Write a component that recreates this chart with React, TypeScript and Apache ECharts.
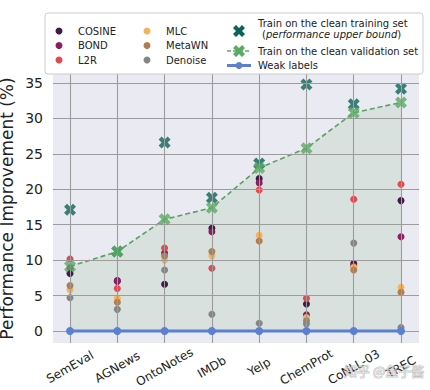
import React, { useEffect, useRef } from "react";
import * as echarts from "echarts";

const categories = ["SemEval", "AGNews", "OntoNotes", "IMDb", "Yelp", "ChemProt", "CoNLL-03", "TREC"];
const cosine = [8.1, 7.1, 6.6, 14.5, 21.5, 3.8, 9.5, 18.4];
const bond = [8.9, 7.0, 11.0, 14.0, 20.9, 2.3, 9.2, 13.3];
const l2r = [10.15, 6.0, 11.7, 8.85, 19.9, 4.6, 18.6, 20.7];
const mlc = [5.8, 4.6, 10.0, 10.6, 13.5, 1.9, 9.0, 6.15];
const metawn = [6.4, 4.05, 10.6, 11.2, 12.7, 1.45, 8.6, 5.45];
const denoise = [4.7, 3.05, 8.6, 2.35, 1.08, 1.0, 12.4, 0.5];
const trainClean = [17.1, 11.2, 26.6, 18.8, 23.65, 34.8, 32.0, 34.2];
const trainValid = [9.1, 11.2, 15.75, 17.4, 23.0, 25.8, 30.8, 32.25];
const weakLabels = [0, 0, 0, 0, 0, 0, 0, 0];
const yTicks = [0, 5, 10, 15, 20, 25, 30, 35];

const FONT = "DejaVu Sans";
const X_PATH = "path://M25 0 L50 25 L75 0 L100 25 L75 50 L100 75 L75 100 L50 75 L25 100 L0 75 L25 50 L0 25 Z";

const methods = [
  { name: "COSINE", data: cosine, color: "#3e1a47" },
  { name: "BOND", data: bond, color: "#8d1e5e" },
  { name: "L2R", data: l2r, color: "#e2484f" },
  { name: "MLC", data: mlc, color: "#f5b35c" },
  { name: "MetaWN", data: metawn, color: "#b17d4e" },
  { name: "Denoise", data: denoise, color: "#858585" },
];

const toPairs = (arr: number[]) => arr.map((v, i) => [i, v]);

function xPoints(cx: number, cy: number, s: number) {
  const base = [
    [25, 0], [50, 25], [75, 0], [100, 25], [75, 50], [100, 75],
    [75, 100], [50, 75], [25, 100], [0, 75], [25, 50], [0, 25],
  ];
  return base.map(([x, y]) => [cx + ((x - 50) / 100) * s, cy + ((y - 50) / 100) * s]);
}

export default function App() {
  const ref = useRef<HTMLDivElement>(null);
  useEffect(() => {
    if (!ref.current) return;
    const chart = echarts.init(ref.current, null, { renderer: "svg" });
    const catIdx = categories.map((_, i) => i);

    const legendGraphics: any[] = [
      {
        type: "rect",
        shape: { x: 45, y: 13, width: 378, height: 61, r: 3 },
        style: { fill: "rgba(255,255,255,0.9)", stroke: "#cccccc", lineWidth: 1 },
        z: 100,
      },
    ];
    methods.forEach((m, k) => {
      const col = Math.floor(k / 3);
      const row = k % 3;
      const cy = [31, 45.5, 60][row];
      const cx = col === 0 ? 59 : 147;
      legendGraphics.push({
        type: "circle",
        shape: { cx, cy, r: 3.5 },
        style: { fill: m.color },
        z: 101,
      });
      legendGraphics.push({
        type: "text",
        x: cx + 19,
        y: cy,
        style: { text: m.name, fontSize: 10, fontFamily: FONT, fill: "#222", verticalAlign: "middle", align: "left" },
        z: 101,
      });
    });
    legendGraphics.push(
      { type: "polygon", shape: { points: xPoints(239, 31, 12) }, style: { fill: "#0b6459" }, z: 101 },
      {
        type: "text",
        x: 258,
        y: 23,
        style: { text: "Train on the clean training set", fontSize: 10, fontFamily: FONT, fill: "#222", verticalAlign: "middle" },
        z: 101,
      },
      {
        type: "text",
        x: 262,
        y: 34.5,
        style: {
          text: "({i|performance upper bound})",
          fontSize: 10,
          fontFamily: FONT,
          fill: "#222",
          verticalAlign: "middle",
          rich: { i: { fontStyle: "italic", fontSize: 10, fontFamily: FONT, fill: "#222" } },
        },
        z: 101,
      },
      {
        type: "line",
        shape: { x1: 227, y1: 51, x2: 251, y2: 51 },
        style: { stroke: "#5aab63", lineWidth: 1.5, lineDash: [4, 2] },
        z: 101,
      },
      { type: "polygon", shape: { points: xPoints(239, 51, 12) }, style: { fill: "#5aab63" }, z: 102 },
      {
        type: "text",
        x: 258,
        y: 51,
        style: { text: "Train on the clean validation set", fontSize: 10, fontFamily: FONT, fill: "#222", verticalAlign: "middle" },
        z: 101,
      },
      {
        type: "line",
        shape: { x1: 227, y1: 65.5, x2: 251, y2: 65.5 },
        style: { stroke: "#5b7fd1", lineWidth: 3 },
        z: 101,
      },
      { type: "circle", shape: { cx: 239, cy: 65.5, r: 3.5 }, style: { fill: "#5b7fd1" }, z: 102 },
      {
        type: "text",
        x: 258,
        y: 65.5,
        style: { text: "Weak labels", fontSize: 10, fontFamily: FONT, fill: "#222", verticalAlign: "middle" },
        z: 101,
      },
      {
        type: "text",
        x: 344,
        y: 370,
        style: {
          text: "知乎 @鱼子酱",
          fontSize: 13,
          fontFamily: "Noto Sans CJK SC",
          fill: "rgba(255,255,255,0.55)",
          stroke: "rgba(140,140,140,0.55)",
          lineWidth: 1,
          verticalAlign: "middle",
        },
        z: 120,
      }
    );

    const option: any = {
      animation: false,
      backgroundColor: "#ffffff",
      grid: {
        left: 53,
        right: 11,
        top: 74,
        bottom: 47,
        containLabel: false,
        outerBoundsMode: "none",
        show: true,
        backgroundColor: "#eaeaf2",
        borderWidth: 0,
      },
      xAxis: {
        type: "value",
        min: -0.36,
        max: 7.38,
        scale: true,
        axisLine: { show: false },
        splitLine: { show: false },
        axisTick: { show: true, customValues: catIdx, length: 5, lineStyle: { color: "#9a9a9a" } },
        axisLabel: {
          customValues: catIdx,
          formatter: (v: number) => categories[Math.round(v)],
          rotate: 30,
          align: "center",
          verticalAlign: "middle",
          margin: 24,
          fontSize: 12,
          fontFamily: FONT,
          color: "#222",
        },
      },
      yAxis: {
        type: "value",
        min: -1.7,
        max: 36.27,
        name: "Performance Improvement (%)",
        nameLocation: "middle",
        nameGap: 38,
        nameMoveOverlap: false,
        nameTextStyle: { fontSize: 17, lineHeight: 17, fontFamily: FONT, color: "#222" },
        axisLine: { show: false },
        splitLine: { show: false },
        axisTick: { show: true, customValues: yTicks, length: 3, lineStyle: { color: "#9a9a9a" } },
        axisLabel: { customValues: yTicks, fontSize: 14, fontFamily: FONT, color: "#222", margin: 10 },
      },
      graphic: legendGraphics,
      series: [
        {
          name: "grid",
          type: "line",
          data: [[0, 0]],
          showSymbol: false,
          lineStyle: { width: 0 },
          silent: true,
          z: 1,
          markLine: {
            silent: true,
            symbol: "none",
            label: { show: false },
            lineStyle: { color: "#9c9c9c", width: 1.1, type: "solid" },
            data: [...catIdx.map((i) => ({ xAxis: i })), ...yTicks.map((v) => ({ yAxis: v }))],
          },
        },
        {
          name: "Train on the clean validation set (area)",
          type: "line",
          data: toPairs(trainValid),
          showSymbol: false,
          lineStyle: { color: "#5aa062", width: 1.6, type: [5, 3] },
          areaStyle: { color: "rgba(112,168,116,0.2)" },
          z: 2,
        },
        ...methods.map((m, k) => ({
          name: m.name,
          type: "scatter",
          data: toPairs(m.data),
          symbol: "circle",
          symbolSize: 7,
          itemStyle: { color: m.color, opacity: 1 },
          z: 3 + k * 0.01,
        })),
        {
          name: "Train on the clean training set",
          type: "scatter",
          data: toPairs(trainClean),
          symbol: X_PATH,
          symbolSize: 12,
          itemStyle: { color: "#0b6459" },
          z: 4,
        },
        {
          name: "Train on the clean validation set",
          type: "scatter",
          data: toPairs(trainValid),
          symbol: X_PATH,
          symbolSize: 12,
          itemStyle: { color: "#5aab63" },
          z: 5,
        },
        {
          name: "Weak labels",
          type: "line",
          data: toPairs(weakLabels),
          symbol: "circle",
          symbolSize: 8,
          showAllSymbol: true,
          lineStyle: { color: "#5b7fd1", width: 3 },
          itemStyle: { color: "#5b7fd1" },
          z: 6,
        },
      ],
    };
    chart.setOption(option);
    return () => chart.dispose();
  }, []);
  return <div ref={ref} style={{ position: "fixed", left: 0, top: 0, width: 430, height: 390 }} />;
}
